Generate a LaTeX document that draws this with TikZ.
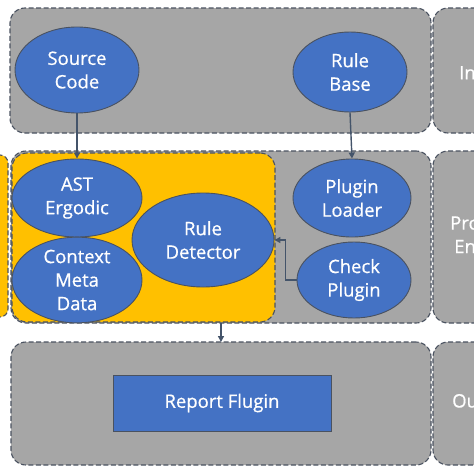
\documentclass[tikz,border=0pt]{standalone}
\usepackage{fontspec}
\setmainfont{Open Sans}
\newfontfamily\lblfont{Open Sans}[FakeBold=0.6]
\usetikzlibrary{shapes.geometric,arrows.meta}
\definecolor{boxgray}{HTML}{A6A6A6}
\definecolor{ylw}{HTML}{FFC000}
\definecolor{blu}{HTML}{4472C4}
\definecolor{edgec}{HTML}{4A5260}
\definecolor{arrc}{HTML}{44546A}
\begin{document}
\begin{tikzpicture}[x=1pt,y=-1pt,
  layerbox/.style={draw=edgec, fill=boxgray, dash pattern=on 5pt off 2.5pt, line width=1.1pt,
    rounded corners=15pt, inner sep=0pt, outer sep=0pt, anchor=north west},
  yellowbox/.style={layerbox, fill=ylw},
  ell/.style={ellipse, draw=edgec, fill=blu, line width=0.9pt, text=white, align=center,
    inner sep=0pt, font=\lblfont\fontsize{18.5}{23.5}\selectfont},
  rbox/.style={rectangle, draw=edgec, fill=blu, line width=0.9pt, text=white,
    inner sep=0pt, font=\lblfont\fontsize{18.5}{23.5}\selectfont},
  sidetext/.style={text=white, align=center, anchor=west, inner sep=0pt,
    font=\lblfont\fontsize{18.5}{23.5}\selectfont},
  flow/.style={draw=arrc, line width=1.4pt, -{Triangle[length=6pt,width=6pt]}}
]
\useasboundingbox (0,0) rectangle (474,474);
\clip (0,0) rectangle (474,474);
\fill[white] (0,0) rectangle (474,474);

% layers
\node[layerbox, minimum width=421pt, minimum height=125pt] (topbox) at (10,8) {};
\node[layerbox, minimum width=80pt, minimum height=125pt] (topside) at (433,8) {};
\node[layerbox, minimum width=420pt, minimum height=172pt] (midbox) at (11,151) {};
\node[layerbox, minimum width=80pt, minimum height=172pt] (midside) at (433,151) {};
\node[layerbox, minimum width=420pt, minimum height=123pt] (botbox) at (11,342) {};
\node[layerbox, minimum width=80pt, minimum height=123pt] (botside) at (433,342) {};

% yellow boxes
\node[yellowbox, minimum width=30pt, minimum height=162pt, rounded corners=8pt] (leftpiece) at (-22,155) {};
\node[yellowbox, minimum width=263pt, minimum height=169pt] (ylw) at (12,153) {};

% side labels
\node[sidetext] (lin) at (459,75) {Input};
\node[sidetext] (lproc) at (450,237) {Process\\Engine};
\node[sidetext] (lout) at (452,403) {Output};

% ellipses
\node[ell, minimum width=124pt, minimum height=86pt] (src) at (77,70) {Source\\Code};
\node[ell, minimum width=114pt, minimum height=80pt] (rb) at (350,72) {Rule\\Base};
\node[ell, minimum width=130pt, minimum height=78pt] (ast) at (77,198) {AST\\Ergodic};
\node[ell, minimum width=130pt, minimum height=76pt] (ctx) at (77,280) {Context\\Meta\\Data};
\node[ell, minimum width=142pt, minimum height=94pt] (rd) at (203,240) {Rule\\Detector};
\node[ell, minimum width=118pt, minimum height=78pt] (pl) at (352,198) {Plugin\\Loader};
\node[ell, minimum width=114pt, minimum height=76pt] (cp) at (354,280) {Check\\Plugin};

% report
\node[rbox, minimum width=218pt, minimum height=56pt] (rep) at (222,403) {Report Flugin};

% arrows
\draw[flow] (src.south) -- (ast.north);
\draw[flow] (rb.south) -- (pl.north);
\draw[flow] (cp.west) -- ++(-11,0) |- (rd.east);
\draw[flow] (midbox.south) -- (botbox.north);
\end{tikzpicture}
\end{document}
